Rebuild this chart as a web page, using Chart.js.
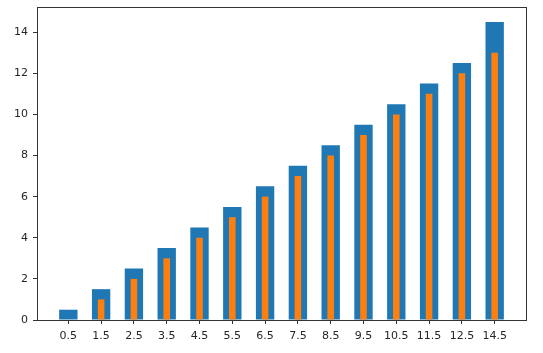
<!DOCTYPE html>
<html><head><meta charset="utf-8">
<script src="https://cdn.jsdelivr.net/npm/chart.js@4/dist/chart.umd.min.js"></script>
<style>html,body{margin:0;padding:0;background:#fff}#wrap{width:543px;height:353px}</style>
</head><body><div id="wrap"><canvas id="c" width="543" height="353"></canvas></div>
<script>
const categories = ['0.5','1.5','2.5','3.5','4.5','5.5','6.5','7.5','8.5','9.5','10.5','11.5','12.5','14.5'];
const blueValues = [0.5,1.5,2.5,3.5,4.5,5.5,6.5,7.5,8.5,9.5,10.5,11.5,12.5,14.5];
const orangeValues = [0,1,2,3,4,5,6,7,8,9,10,11,12,13];
const yTicks = [0,2,4,6,8,10,12,14];

const axisColor = '#333';
const textColor = '#262626';
const font = {family: 'DejaVu Sans', size: 11};

const toPoints = vals => vals.map((v, i) => ({x: i, y: v}));
const noPad = s => { s.paddingTop = 0; s.paddingBottom = 0; s.paddingLeft = 0; s.paddingRight = 0; };

new Chart(document.getElementById('c'), {
  type: 'bar',
  data: {
    datasets: [
      {data: toPoints(orangeValues), backgroundColor: '#ff7f0e', grouped: false,
       categoryPercentage: 1, barPercentage: 0.2, xAxisID: 'x', yAxisID: 'y'},
      {data: toPoints(blueValues), backgroundColor: '#1f77b4', grouped: false,
       categoryPercentage: 1, barPercentage: 0.56, xAxisID: 'x', yAxisID: 'y'}
    ]
  },
  options: {
    responsive: false,
    animation: false,
    devicePixelRatio: 1,
    layout: {padding: {left: 0, right: 17, top: 7, bottom: 0}},
    plugins: {legend: {display: false}, tooltip: {enabled: false}},
    scales: {
      x: {
        type: 'linear', position: 'bottom', min: -0.955, max: 13.955, offset: false,
        afterBuildTicks: axis => { axis.ticks = categories.map((c, i) => ({value: i})); },
        afterFit: s => { s.height = 33; noPad(s); },
        ticks: {autoSkip: false, maxRotation: 0, font, color: textColor, padding: 6,
                callback: v => categories[Math.round(v)]},
        grid: {display: true, offset: false, drawOnChartArea: false, drawTicks: true, tickLength: 4, color: axisColor},
        border: {display: true, color: axisColor, width: 1}
      },
      y: {
        type: 'linear', position: 'left', min: 0, max: 15.225,
        afterBuildTicks: axis => { axis.ticks = yTicks.map(v => ({value: v})); },
        afterFit: s => { s.width = 37; noPad(s); },
        ticks: {font, color: textColor, padding: 5, callback: v => String(v)},
        grid: {display: true, drawOnChartArea: false, drawTicks: true, tickLength: 4, color: axisColor},
        border: {display: true, color: axisColor, width: 1}
      },
      x2: {
        type: 'linear', position: 'top', min: 0, max: 1,
        afterFit: s => { s.height = 0; noPad(s); },
        ticks: {display: false}, grid: {display: false},
        border: {display: true, color: axisColor, width: 1}
      },
      y2: {
        type: 'linear', position: 'right', min: 0, max: 1,
        afterFit: s => { s.width = 0; noPad(s); },
        ticks: {display: false}, grid: {display: false},
        border: {display: true, color: axisColor, width: 1}
      }
    }
  }
});
</script>
</body></html>
